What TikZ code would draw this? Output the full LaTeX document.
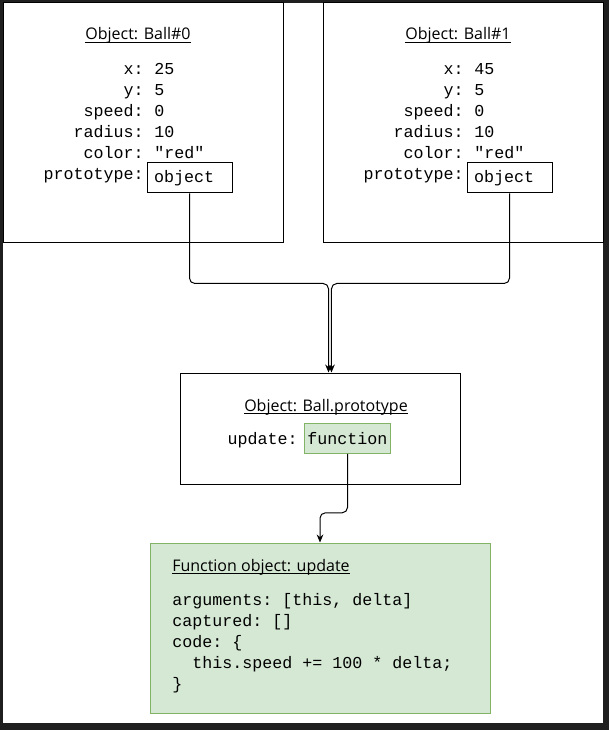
\documentclass[tikz,border=0pt]{standalone}
\usepackage{fontspec}
\setmainfont{Open Sans}
\setmonofont{Liberation Mono}
\usetikzlibrary{arrows.meta}
\definecolor{frame}{HTML}{1F1F1F}
\definecolor{fngreen}{HTML}{D5E8D4}
\definecolor{fnedge}{HTML}{82B366}
\newcommand{\heading}[1]{\underline{\smash{#1}}}

\begin{document}
\begin{tikzpicture}[x=0.75pt,y=-0.75pt,
    objbox/.style={draw, line width=0.75pt, inner sep=0pt},
    hd/.style={inner sep=0pt, font=\fontsize{12}{14}\selectfont},
    code/.style={inner sep=0pt, font=\fontsize{12.5}{15.75}\selectfont\ttfamily},
    slot/.style={code, draw, line width=0.75pt, inner xsep=5.25pt, minimum height=22.5pt, text width=53.25pt, align=left},
    fnslot/.style={code, draw=fnedge, fill=fngreen, line width=0.75pt, minimum width=64.5pt, minimum height=22.5pt},
    link/.style={line width=0.75pt, rounded corners=4pt, -{Stealth[length=6pt,width=5pt]}}]
    % frame
    \fill[frame] (0,0) rectangle (609,730);
    \fill[white] (3,3) rectangle (603,723);
    % the two balls
    \foreach \b/\dx/\xv in {0/0/25,1/320/45}{
        \node[objbox, minimum width=210pt, minimum height=180pt] (ball\b) at (143+\dx,123) {};
        \node[hd, anchor=base] (name\b) at (138+\dx,40) {\heading{Object: Ball\#\b}};
        \foreach \k/\v [count=\i] in {x:/\xv, y:/5, speed:/0, radius:/10, color:/"red"}{
            \node[code, anchor=base east] (key\b\i) at (144+\dx,54+21*\i) {\k};
            \node[code, anchor=base west] (val\b\i) at (154+\dx,54+21*\i) {\v};
        }
        \node[code, anchor=base east] (pkey\b) at (144+\dx,180) {prototype:};
        \node[slot] (obj\b) at (189.5+\dx,178) {object};
    }
    % prototype
    \node[objbox, minimum width=210pt, minimum height=83.25pt] (proto) at (320,428.5) {};
    \node[hd, anchor=base] (pname) at (326,411) {\heading{Object: Ball.prototype}};
    \node[code, anchor=base east] (ukey) at (298,444) {update:};
    \node[fnslot] (func) at (347.5,438.3) {function};
    % function object
    \node[draw=fnedge, fill=fngreen, line width=0.75pt, minimum width=255pt, minimum height=127.5pt] (fobj) at (320,628) {};
    \node[hd, anchor=base west] (fname) at (172,571) {\heading{Function object: update}};
    \foreach \ln [count=\i] in {{arguments: [this, delta]}, {captured: []}, {code: \{}, {\phantom{xx}this.speed += 100 * delta;}, {\}}}
        \node[code, anchor=base west] (line\i) at (172,584.5+21*\i) {\ln};
    % links
    \draw[link] (obj0.south) -- ++(0,90) -| ([xshift=6.4pt]proto.north);
    \draw[link] (obj1.south) -- ++(0,90) -| ([xshift=8.6pt]proto.north);
    \draw[link] (func.south) -- ++(0,59) -| (fobj.north);
\end{tikzpicture}
\end{document}
